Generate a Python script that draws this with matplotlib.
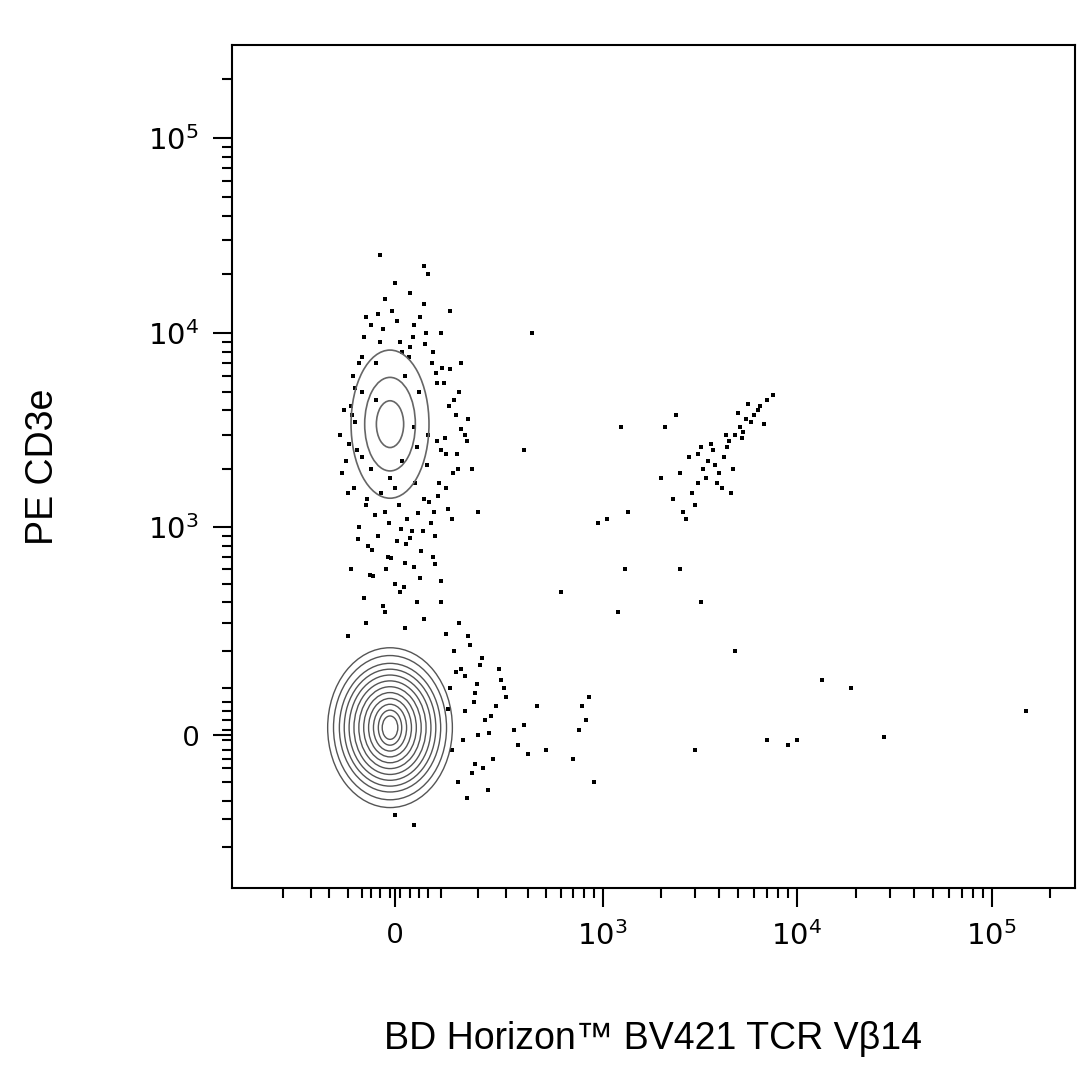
import numpy as np
import matplotlib
matplotlib.use("Agg")
import matplotlib.pyplot as plt
from matplotlib.patches import Ellipse

plt.rcParams['font.family'] = ['Liberation Sans', 'DejaVu Sans']

# biexponential-like display scale: decades with a linear region near zero
COF = 173.0


def tr(v):
    return np.arcsinh(np.asarray(v, dtype=float) / COF) / np.log(10)


# events (x = BV421 TCR Vb14, y = PE CD3e)
upper_x = [-60, -20, 10, 40, 80, 120, -90, -40, 0, 30, 60, 100, 150, -110, -70, -30, 20, 50,
           90, 130, -80, -50, -10, 15, 45, 70, 110, -100, -60, -20, 25, 60, 95, 140, -75, -35,
           5, 35, 75, 115, -55, -15, 20, 55, 85, 125, 160, -95, -45, 0, 40, 80, -65, -25, 10,
           45, 100, -85, -40, 30, 70, 180, 200, -30, 60, 120, -70, 0, 90, 40]
upper_y = [12000, 15000, 9000, 11000, 8000, 13000, 6000, 7000, 18000, 16000, 14000, 10000, 7000,
           4000, 5000, 9000, 6000, 5000, 5500, 4500, 2500, 2000, 1800, 2200, 2600, 3000, 2400,
           1500, 1300, 1200, 1100, 1400, 1700, 2000, 1000, 900, 850, 950, 1050, 1250, 800, 700,
           650, 750, 900, 1100, 3000, 600, 550, 500, 620, 700, 420, 380, 450, 400, 520, 3500,
           4500, 8500, 20000, 2000, 1200, 25000, 22000, 6500, 7500, 1600, 2800, 3300]
upper2_x = [-120, -105, -95, -85, -75, -65, -50, -35, -25, -5, 5, 15, 28, 38, 52, 66, 78, 88,
            105, 118, 135, 150, 165, -115, -88, -58, -42, -12, 12, 32, 48, 72, 92, 112, 128,
            -98, -68, -28, 8, 42, 68, 98, 138, -78, -48, -8, 22, 58, 82, 108, 145, 170, -52,
            -18, 18, 52, 86, -92, 62, 102]
upper2_y = [3000, 2200, 4200, 5200, 7000, 9500, 11000, 12500, 10500, 13000, 11500, 8000, 7500,
            9500, 12000, 10000, 7000, 6200, 5500, 4200, 3800, 3200, 2800, 1900, 1600, 1400,
            1150, 1050, 980, 880, 1180, 1350, 1450, 1600, 1900, 2700, 2300, 1500, 1300, 1700,
            2100, 2500, 2400, 870, 760, 690, 820, 960, 1200, 2900, 5000, 3600, 560, 600, 480,
            540, 640, 3800, 8800, 6600]
lower_x = [120, 160, 200, 250, 300, 150, 180, 220, 280, 350, 130, 170, 210, 260, 330, 400,
           140, 190, 240, 290, 110, 145, 175, 230, 270, 380, 450, 500, 190, 160, 125, 155, 185,
           215, 135, 165, 195, 235, 115, 205]
lower_y = [100, 50, 0, -50, 80, 150, -80, 30, 120, -20, 200, 250, 180, 60, 10, -40, -100,
           -60, 40, 100, 260, 300, 220, -120, 150, 20, 60, -30, 90, 130, -30, -10, 70, -70,
           140, -140, 110, 5, 55, 160]
sparse_x = [700, 820, 900, 1300, 2100, 600, 950, 1200, 3000, 4800, 7000, 10000, 13500, 19000,
            28000, 150000, 9000, 3200, 2500, 780, 1250, 2400, 1350, 750, 850, 1050, 380, 420,
            -60, -20, 20, 60, 100, -100, 0, 40]
sparse_y = [-50, 30, -100, 600, 3300, 450, 1050, 350, -30, 200, -10, -10, 120, 100, -5, 50,
            -20, 400, 600, 60, 3300, 3800, 1200, 10, 80, 1100, 2500, 10000,
            300, 350, 280, 320, 400, 250, -190, -220]
right_x = [2000, 2300, 2600, 2900, 3100, 3300, 3500, 3700, 4000, 4200, 4500, 4800, 5100, 5500,
           6000, 6500, 7000, 7500, 2700, 3000, 3400, 3800, 4100, 4400, 4700, 5300, 5800, 6300,
           3600, 3900, 4300, 5000, 5600, 2800, 3200, 6800, 4600, 5200, 2500, 3100]
right_y = [1800, 1400, 1200, 1500, 1700, 2000, 2200, 2500, 1900, 2300, 2800, 3000, 3300, 3600,
           3800, 4200, 4500, 4800, 1100, 1300, 1800, 2100, 1600, 2600, 2000, 3100, 3500, 4000,
           2700, 1700, 3000, 3900, 4300, 2300, 2600, 3400, 1500, 2900, 1900, 2400]

# contour rings (centre value, half-widths in decades)
low_cx, low_cy = -10, 15
low_rx = [0.32, 0.29, 0.26, 0.235, 0.21, 0.185, 0.16, 0.135, 0.11, 0.085, 0.06, 0.04]
low_ry = [0.41, 0.37, 0.33, 0.30, 0.27, 0.24, 0.21, 0.18, 0.15, 0.12, 0.09, 0.06]
up_cx, up_cy = -10, 3400
up_rx = [0.20, 0.13, 0.07]
up_ry = [0.38, 0.24, 0.12]

fig = plt.figure(figsize=(10.86, 10.86), dpi=100)
ax = fig.add_axes([232 / 1086, 198 / 1086, 843 / 1086, 843 / 1086])

for xs, ys in [(upper_x, upper_y), (upper2_x, upper2_y), (lower_x, lower_y),
               (sparse_x, sparse_y), (right_x, right_y)]:
    ax.scatter(tr(xs), tr(ys), s=5, c='black', marker='s', linewidths=0)

for rx, ry in zip(low_rx, low_ry):
    ax.add_patch(Ellipse((tr(low_cx), tr(low_cy)), 2 * rx, 2 * ry, fill=False,
                         edgecolor='#555555', linewidth=1))
for rx, ry in zip(up_rx, up_ry):
    ax.add_patch(Ellipse((tr(up_cx), tr(up_cy)), 2 * rx, 2 * ry, fill=False,
                         edgecolor='#666666', linewidth=1.2))

major = [0, 1000, 10000, 100000]
labels = ['0', '$10^3$', '$10^4$', '$10^5$']
minor = [-300, -200, -150, -100, -70, -50, -30, -10, 10, 30, 50, 70, 100, 200, 300, 400, 500,
         600, 700, 800, 900]
for d in [1000, 10000, 100000]:
    minor += [k * d for k in range(2, 10)]
for axis in (ax.xaxis, ax.yaxis):
    axis.set_ticks(tr(major))
    axis.set_ticklabels(labels)
    axis.set_ticks(tr(minor), minor=True)
ax.set_xlim(-0.836, 3.49)
ax.set_ylim(-0.785, 3.54)
ax.tick_params(which='major', length=14, width=1.5, labelsize=21, pad=10)
ax.tick_params(which='minor', length=7, width=1.5)
for sp in ax.spines.values():
    sp.set_linewidth(1.5)

ax.set_xlabel('BD Horizon™ BV421 TCR Vβ14', fontsize=27, labelpad=50)
ax.set_ylabel('PE CD3e', fontsize=27, labelpad=62)

fig.savefig('out.png', dpi=100)
